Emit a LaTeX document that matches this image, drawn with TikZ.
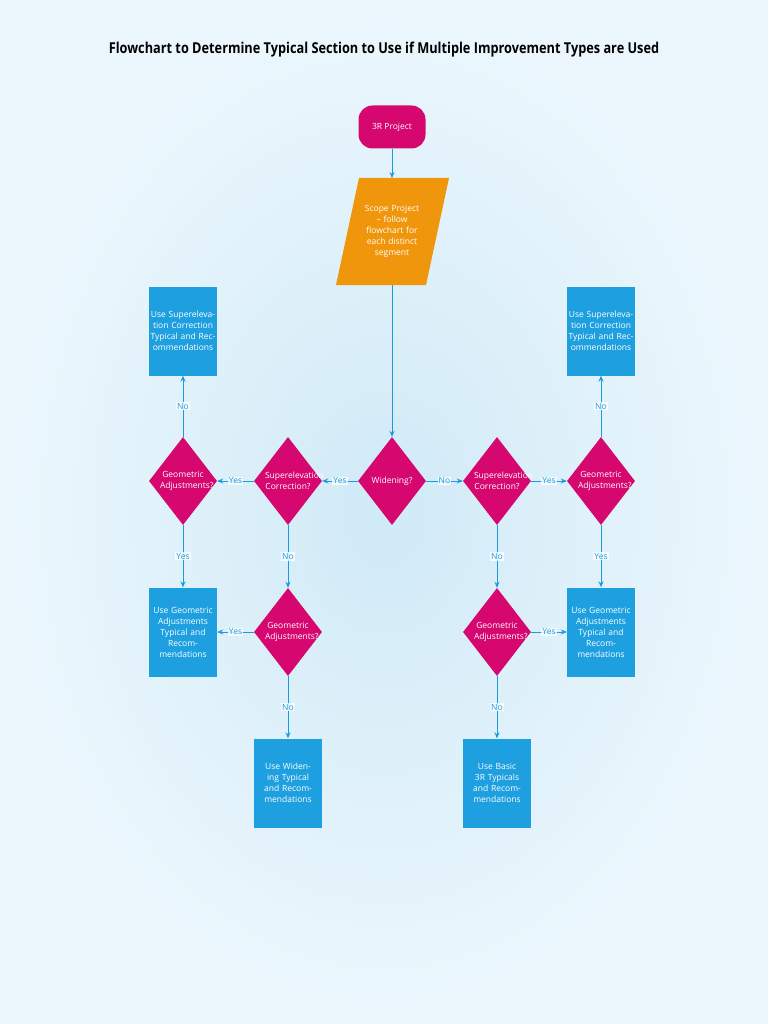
\documentclass[tikz,border=0pt]{standalone}
\usepackage{fontspec}
\setmainfont{Open Sans}
\usetikzlibrary{shapes.geometric,arrows.meta}
\definecolor{mag}{HTML}{D6086F}
\definecolor{org}{HTML}{F0960C}
\definecolor{blu}{HTML}{1EA0E0}
\definecolor{lin}{HTML}{1A9BE0}
\begin{document}
\begin{tikzpicture}[x=1pt,y=-1pt,
  txt/.style={text=white,font=\fontsize{8.5}{11}\selectfont,align=center,inner sep=0pt},
  dia/.style={txt,diamond,fill=mag,minimum width=68pt,minimum height=88pt,text width=46pt},
  rbox/.style={txt,rectangle,fill=blu,minimum width=68pt,minimum height=89pt,text width=66pt},
  conn/.style={draw=lin,line width=0.8pt,-{Stealth[length=6pt,width=5pt]}},
  lab/.style={fill=white,fill opacity=0.8,text opacity=1,text=lin,font=\fontsize{8.5}{10}\selectfont,inner sep=1pt}]
\useasboundingbox (0,0) rectangle (768,1024);
\shade[inner color={rgb,255:red,208;green,234;blue,247},outer color={rgb,255:red,236;green,247;blue,253}] (0,0) rectangle (768,1024);
\node[font=\bfseries\fontsize{15}{18}\selectfont,xscale=0.85] (title) at (384,50) {Flowchart to Determine Typical Section to Use if Multiple Improvement Types are Used};
\node[txt,fill=mag,rounded corners=14pt,minimum width=67pt,minimum height=43pt] (start) at (392,127) {3R Project};
\fill[org] (359,178) -- (449,178) -- (426,285) -- (336,285) -- cycle;
\node[txt,text width=60pt,minimum height=107pt] (scope) at (392,231) {Scope Project\\-- follow\\flowchart for\\each distinct\\segment};
\node[dia] (wid) at (392,481) {Widening?};
\node[dia] (sl) at (288,481) {Superelevation\\Correction?};
\node[dia] (sr) at (497,481) {Superelevation\\Correction?};
\node[dia] (gl) at (183,481) {Geometric\\Adjustments?};
\node[dia] (gr) at (601,481) {Geometric\\Adjustments?};
\node[dia] (gl2) at (288,632) {Geometric\\Adjustments?};
\node[dia] (gr2) at (497,632) {Geometric\\Adjustments?};
\node[rbox] (btl) at (183,331) {Use Superelevation Correction Typical and Recommendations};
\node[rbox] (btr) at (601,331) {Use Superelevation Correction Typical and Recommendations};
\node[rbox,text width=60pt] (bml) at (183,632) {Use Geometric Adjustments Typical and Recommendations};
\node[rbox,text width=60pt] (bmr) at (601,632) {Use Geometric Adjustments Typical and Recommendations};
\node[rbox,text width=60pt] (bbl) at (288,783) {Use Widening Typical and Recommendations};
\node[rbox,text width=60pt] (bbr) at (497,783) {Use Basic 3R Typicals and Recommendations};
\draw[conn] (start) -- (scope.south |- 0,178);
\draw[conn] (392,285) -- (wid);
\draw[conn] (wid) -- node[lab]{Yes} (sl);
\draw[conn] (wid) -- node[lab]{No} (sr);
\draw[conn] (sl) -- node[lab]{Yes} (gl);
\draw[conn] (sr) -- node[lab]{Yes} (gr);
\draw[conn] (gl) -- node[lab]{No} (btl);
\draw[conn] (gr) -- node[lab]{No} (btr);
\draw[conn] (gl) -- node[lab]{Yes} (bml);
\draw[conn] (gr) -- node[lab]{Yes} (bmr);
\draw[conn] (sl) -- node[lab]{No} (gl2);
\draw[conn] (sr) -- node[lab]{No} (gr2);
\draw[conn] (gl2) -- node[lab]{Yes} (bml);
\draw[conn] (gr2) -- node[lab]{Yes} (bmr);
\draw[conn] (gl2) -- node[lab]{No} (bbl);
\draw[conn] (gr2) -- node[lab]{No} (bbr);
\end{tikzpicture}
\end{document}
